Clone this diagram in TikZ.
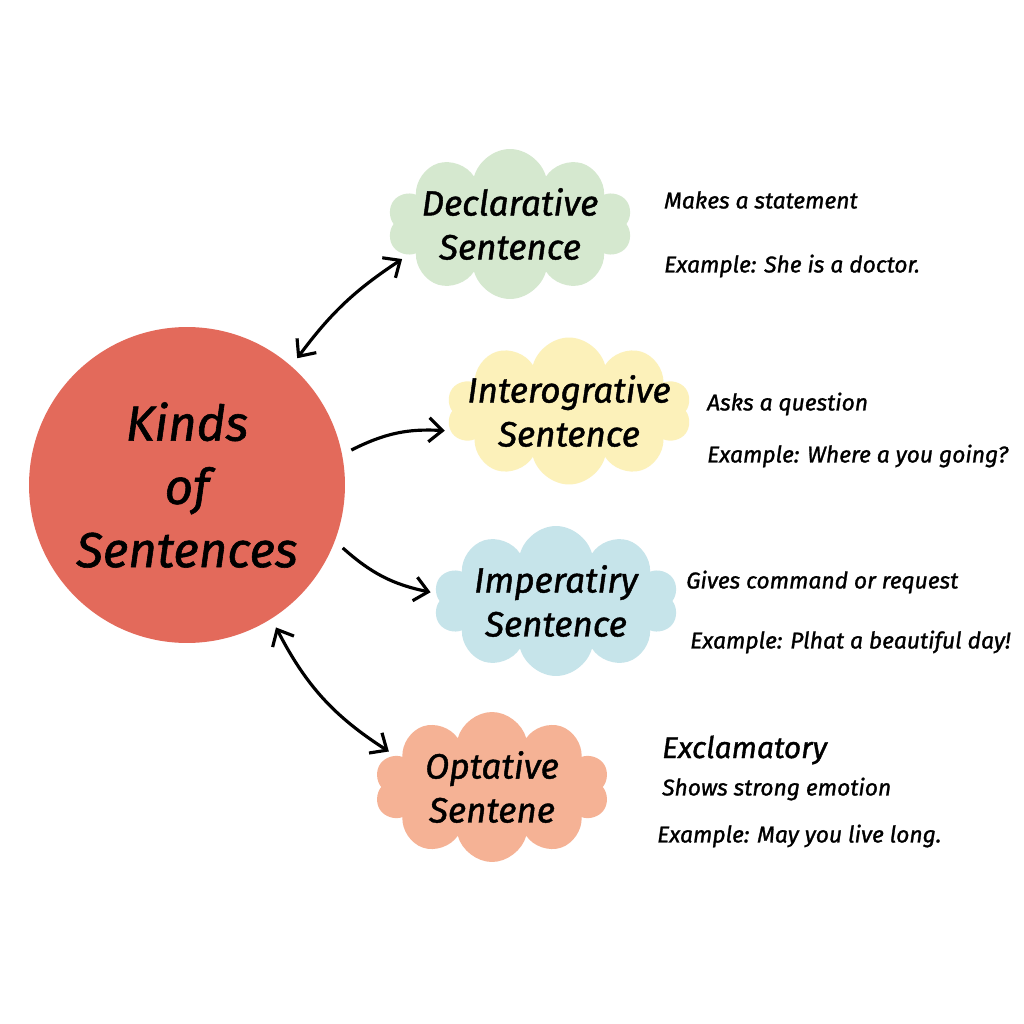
\documentclass[tikz,border=0pt]{standalone}
\usepackage{fontspec}
\setmainfont{Fira Sans}[ItalicFeatures={FakeBold=1.2}]
\usetikzlibrary{shapes.symbols,arrows.meta}
\definecolor{kindsred}{HTML}{E36A5B}
\definecolor{declgreen}{HTML}{D5E8CF}
\definecolor{interyellow}{HTML}{FCF1BA}
\definecolor{impblue}{HTML}{C6E4EA}
\definecolor{optorange}{HTML}{F5B295}
\begin{document}
\begin{tikzpicture}
  [x=0.02cm,y=-0.02cm,every node/.style={font=\itshape},
   puff/.style={cloud,cloud puffs=10,aspect=1.6,minimum width=4.9cm,minimum height=3cm,
     inner sep=0pt,outer sep=3pt},
   puffText/.style={align=center,font=\itshape\fontsize{20}{25}\selectfont},
   note/.style={anchor=west,font=\itshape\fontsize{13}{15}\selectfont},
   >={Straight Barb[length=2.7mm,width=4.8mm]},
   link/.style={line width=1.8pt},
   twoway/.style={link,<->},
   oneway/.style={link,->}]
  \useasboundingbox (0,0) rectangle (1024,1024);
  \fill[white] (0,0) rectangle (1024,1024);

  \node (kinds)[circle,fill=kindsred,minimum size=6.32cm,outer sep=0.2cm,align=center,
    font=\itshape\fontsize{28}{36}\selectfont] at (187,485) {Kinds\\of\\Sentences};
  \node (decl)[puff,fill=declgreen] at (510,224) {};
  \node (inter)[puff,fill=interyellow,minimum height=2.94cm] at (569,411) {};
  \node (imp)[puff,fill=impblue] at (556,601) {};
  \node (opt)[puff,fill=optorange,minimum width=4.7cm] at (492,787) {};
  \node (declT)[puffText] at (decl) {Declarative\\Sentence};
  \node (interT)[puffText] at (inter) {Interogrative\\Sentence};
  \node (impT)[puffText] at (imp) {Imperatiry\\Sentence};
  \node (optT)[puffText] at (opt) {Optative\\Sentene};

  \node (d1)[note] at (658,200) {Makes a statement};
  \node (d2)[note] at (658,266) {Example: She is a doctor.};
  \node (i1)[note] at (701,404) {Asks a question};
  \node (i2)[note] at (701,456) {Example: Where a you going?};
  \node (m1)[note] at (680,582) {Gives command or request};
  \node (m2)[note] at (684,642) {Example: Plhat a beautiful day!};
  \node (o0)[note,font=\itshape\fontsize{17}{20}\selectfont] at (656,750) {Exclamatory};
  \node (o1)[note] at (656,789) {Shows strong emotion};
  \node (o2)[note] at (651,836) {Example: May you live long.};

  \foreach \from/\to/\tip/\bend in {kinds.49/decl.198/twoway/10,
      kinds.12/inter.189/oneway/15,
      kinds.-22/imp.176/oneway/-15,
      kinds.-58/opt.161/twoway/-15}
    \draw[\tip] (\from) to[bend left=\bend] (\to);
\end{tikzpicture}
\end{document}
